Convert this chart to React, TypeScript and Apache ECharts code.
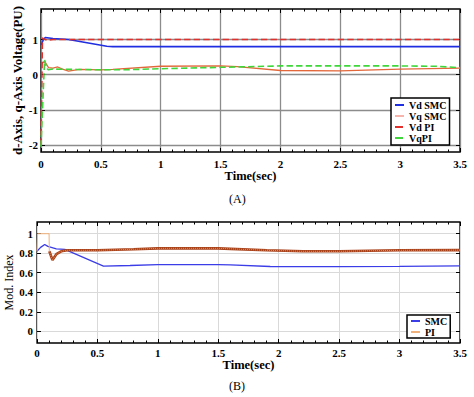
import React, { useEffect, useRef } from "react";
import * as echarts from "echarts";

// ---- (A) d/q axis voltages ----
const vdSmc: [number, number][] = [
  [0, 0.85], [0.008, 0.9], [0.02, 1.0], [0.036, 1.06], [0.1, 1.03], [0.23, 1.0],
  [0.55, 0.81], [0.6, 0.8], [1.0, 0.8], [2.0, 0.8], [3.0, 0.8], [3.5, 0.8],
];
const vqSmc: [number, number][] = [
  [0, 0.3], [0.03, 0.38], [0.063, 0.2], [0.1, 0.19], [0.14, 0.22], [0.18, 0.16],
  [0.23, 0.1], [0.32, 0.15], [0.5, 0.14], [0.6, 0.15], [1.0, 0.24], [1.5, 0.25],
  [1.64, 0.23], [2.0, 0.12], [2.5, 0.11], [3.0, 0.16], [3.5, 0.19],
];
const vdPi: [number, number][] = [
  [0, -2.0], [0.012, 1.05], [0.02, 1.02], [0.05, 0.98], [0.1, 1.0], [1.0, 1.0],
  [2.0, 1.0], [3.0, 1.0], [3.5, 1.0],
];
const vqPi: [number, number][] = [
  [0, -2.05], [0.006, -1.5], [0.03, 0.42], [0.045, 0.2], [0.06, 0.14], [0.1, 0.16],
  [0.3, 0.15], [0.5, 0.14], [0.7, 0.14], [1.0, 0.17], [1.5, 0.21], [2.0, 0.25],
  [2.5, 0.25], [3.0, 0.25], [3.3, 0.24], [3.5, 0.2],
];
const yTicksA = [-2, -1, 0, 1];

// ---- (B) modulation index ----
const miSmc: [number, number][] = [
  [0, 0.82], [0.03, 0.86], [0.064, 0.89], [0.09, 0.87], [0.16, 0.845], [0.23, 0.84],
  [0.55, 0.667], [0.77, 0.674], [1.0, 0.684], [1.5, 0.684], [1.6, 0.68], [1.93, 0.664],
  [2.2, 0.662], [2.5, 0.663], [3.0, 0.665], [3.5, 0.67],
];
const miPiStart: [number, number][] = [
  [0, 0.82], [0.005, 1.0], [0.1, 1.0], [0.102, 0.82],
];
const miPi: [number, number][] = [
  [0.102, 0.82], [0.128, 0.73], [0.16, 0.79], [0.2, 0.82], [0.25, 0.83], [0.5, 0.83],
  [0.8, 0.84], [1.0, 0.85], [1.5, 0.85], [1.6, 0.845], [1.9, 0.83], [2.2, 0.82],
  [2.5, 0.82], [3.0, 0.83], [3.5, 0.832],
];
const yTicksB = [0, 0.2, 0.4, 0.6, 0.8, 1];

const SERIF = "'Liberation Serif', 'Times New Roman', serif";

export default function App() {
  const ref = useRef<HTMLDivElement>(null);
  useEffect(() => {
    if (!ref.current) return;
    const chart = echarts.init(ref.current, null, { renderer: "svg" });
    const lbl = { fontFamily: SERIF, fontWeight: "bold" as const, fontSize: 11, color: "#000" };
    const noLine = { show: false, onZero: false };
    const xBase = (grid: number, margin: number, nameGap: number, split: string) => [
      {
        type: "value", gridIndex: grid, position: "bottom", min: 0, max: 3.5, interval: 0.5,
        name: "Time(sec)", nameLocation: "middle", nameGap,
        nameTextStyle: { fontFamily: SERIF, fontWeight: "bold", fontSize: 12.5, color: "#000" },
        axisLine: noLine,
        axisTick: { show: true, inside: true, length: 4, lineStyle: { color: "#000" } },
        minorTick: { show: true, splitNumber: 5, length: 2.5, lineStyle: { color: "#000" } },
        axisLabel: { ...lbl, margin },
        splitLine: { show: true, lineStyle: { color: split, width: grid === 0 ? 1.3 : 1 } },
      },
      {
        type: "value", gridIndex: grid, position: "top", min: 0, max: 3.5, interval: 0.5,
        axisLine: noLine,
        axisTick: { show: true, inside: true, length: 4, lineStyle: { color: "#000" } },
        minorTick: { show: true, splitNumber: 5, length: 2.5, lineStyle: { color: "#000" } },
        axisLabel: { show: false },
        splitLine: { show: false },
      },
    ];
    const yBase = (grid: number, min: number, max: number, ticks: number[], name: string,
      nameGap: number, nameBold: boolean, nameSize: number, split: string, margin: number) => [
      {
        type: "value", gridIndex: grid, position: "left", min, max,
        name, nameLocation: "middle", nameGap, nameRotate: 90, nameMoveOverlap: false,
        nameTextStyle: { fontFamily: SERIF, fontWeight: nameBold ? "bold" : "normal", fontSize: nameSize, color: "#000" },
        axisLine: noLine,
        axisTick: { show: true, inside: true, length: 4, customValues: ticks, lineStyle: { color: "#000" } },
        axisLabel: { ...lbl, margin, customValues: ticks },
        splitLine: { show: true, lineStyle: { color: split, width: grid === 0 ? 1.3 : 1 } },
      },
      {
        type: "value", gridIndex: grid, position: "right", min, max,
        axisLine: noLine,
        axisTick: { show: true, inside: true, length: 4, customValues: ticks, lineStyle: { color: "#000" } },
        axisLabel: { show: false, customValues: ticks },
        splitLine: { show: false },
      },
    ];
    const line = (name: string, data: [number, number][], x: number, y: number, color: string,
      width: number, type: string = "solid", z = 2) => ({
      type: "line", name, data, xAxisIndex: x, yAxisIndex: y, showSymbol: false, symbol: "none",
      lineStyle: { color, width, type }, itemStyle: { color }, z, silent: true,
    });
    const legendBox = {
      orient: "vertical", selectedMode: false, padding: [2, 3, 2, 3],
      borderColor: "#000", borderWidth: 1.5, backgroundColor: "#fff",
      itemWidth: 9, itemHeight: 8, itemGap: 1,
      itemStyle: { opacity: 0 },
      textStyle: { fontFamily: SERIF, fontWeight: "bold", fontSize: 10, color: "#000", lineHeight: 10 },
    };
    const gridCommon = { show: true, borderColor: "#000", backgroundColor: "transparent", outerBoundsMode: "none", containLabel: false };
    chart.setOption({
      animation: false,
      backgroundColor: "#fff",
      grid: [
        { ...gridCommon, left: 41, top: 9, width: 419, height: 143, borderWidth: 1.5 },
        { ...gridCommon, left: 37, top: 222, width: 423, height: 121, borderWidth: 1.3 },
      ],
      xAxis: [...xBase(0, 6, 15, "#8c8c8c"), ...xBase(1, 4, 12, "#d9d9d9")],
      yAxis: [
        ...yBase(0, -2.2, 1.87, yTicksA, "d-Axis, q-Axis Voltage(PU)", 17, true, 13, "#8c8c8c", 3),
        ...yBase(1, -0.12, 1.12, yTicksB, "Mod. Index", 22, false, 12, "#d9d9d9", 4),
      ],
      legend: [
        {
          ...legendBox, left: 391, top: 98,
          data: [
            { name: "Vd SMC" },
            { name: "Vq SMC", lineStyle: { color: "#f6b4ac" }, textStyle: { color: "#000" } },
            { name: "Vd PI" },
            { name: "VqPI" },
          ],
        },
        {
          ...legendBox, left: 407, top: 315, padding: [1, 3, 1, 3],
          data: [{ name: "SMC" }, { name: "PI" }],
        },
      ],
      graphic: [
        { type: "text", left: 229, top: 193, style: { text: "(A)", font: `12px ${SERIF}`, fill: "#000" } },
        { type: "text", left: 229, top: 380, style: { text: "(B)", font: `12px ${SERIF}`, fill: "#000" } },
      ],
      series: [
        line("Vd SMC", vdSmc, 0, 0, "#1f2ee0", 1.6),
        line("Vq SMC", vqSmc, 0, 0, "#e2673a", 1.3),
        line("Vd PI", vdPi, 0, 0, "#e2302c", 1.6, "dashed", 3),
        line("VqPI", vqPi, 0, 0, "#3ed63a", 1.6, "dashed", 3),
        line("SMC", miSmc, 2, 2, "#3b3de6", 1.3),
        line("PI", miPiStart, 2, 2, "#f0b27a", 1),
        line("PI ", miPi, 2, 2, "#a8421a", 2.6),
        line("PI  ", miPi, 2, 2, "#f08a4a", 1, "dotted", 3),
      ],
    });
    return () => chart.dispose();
  }, []);
  return (
    <div
      ref={ref}
      style={{ position: "fixed", left: 0, top: 0, width: 474, height: 397, background: "#fff" }}
    />
  );
}
